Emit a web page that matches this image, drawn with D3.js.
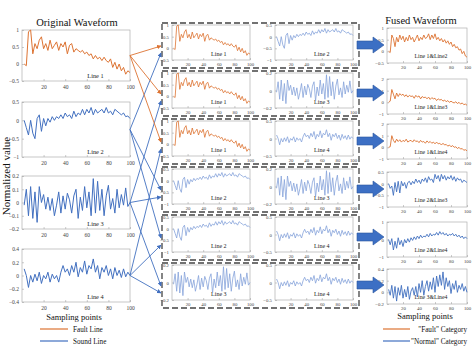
<!DOCTYPE html>
<html>
<head>
<meta charset="utf-8">
<script src="https://cdn.jsdelivr.net/npm/d3@7"></script>
<style>
  html, body { margin: 0; padding: 0; background: #fff; }
  svg { display: block; font-family: "Liberation Serif", "Times New Roman", serif; }
</style>
</head>
<body>
<svg id="chart" width="474" height="350"></svg>
<script>
// Sample positions (every second sampling point, 2..100)
const samplePoints = [2,4,6,8,10,12,14,16,18,20,22,24,26,28,30,32,34,36,38,40,42,44,46,48,50,
  52,54,56,58,60,62,64,66,68,70,72,74,76,78,80,82,84,86,88,90,92,94,96,98,100];
const xTickLabels = [20, 40, 60, 80, 100];

// Original waveforms
const line1 = [0.0,-0.05,0.95,1.0,0.3,0.6,0.45,0.7,0.8,0.45,0.6,0.4,0.7,0.45,0.55,0.65,0.4,0.6,0.5,0.65,
  0.3,0.55,0.6,0.35,0.45,0.4,0.35,0.4,0.3,0.35,0.25,0.3,0.15,0.25,0.15,0.2,0.1,0.2,0.1,0.05,
  0.15,-0.1,0.05,-0.15,0.0,-0.2,-0.1,-0.3,-0.2,-0.25];
const line2 = [0.0,-0.2,-0.4,0.0,-0.35,-0.5,0.05,0.15,-0.3,0.05,-0.15,0.05,-0.05,0.1,0.0,0.1,0.05,0.15,0.05,0.2,
  0.1,0.15,0.05,0.25,0.1,0.2,0.15,0.3,0.15,0.3,0.2,0.35,0.15,0.3,0.2,0.25,0.3,0.2,0.35,0.2,
  0.25,0.15,0.3,0.25,0.2,0.15,0.2,0.1,0.12,0.05];
const line3 = [-0.02,0.1,-0.1,0.12,-0.12,0.08,-0.15,0.12,0.0,0.06,-0.05,0.04,-0.06,0.03,-0.1,-0.02,0.08,-0.08,0.05,-0.05,
  0.07,0.02,-0.08,0.05,0.1,-0.12,0.04,-0.06,0.12,-0.04,0.08,-0.1,0.18,-0.08,0.16,-0.06,0.1,-0.1,0.05,0.13,
  -0.05,0.03,-0.08,0.1,-0.04,0.06,-0.02,0.11,-0.03,0.0];
const line4 = [0.1,0.0,-0.18,0.0,-0.1,0.02,-0.08,0.05,-0.12,0.0,-0.05,0.05,-0.1,0.02,-0.05,0.0,-0.1,0.05,0.15,0.05,
  0.1,0.0,0.15,0.05,0.2,-0.02,0.12,0.05,0.22,0.02,0.15,0.1,0.25,0.05,0.15,-0.05,0.12,0.05,0.15,0.0,
  0.1,-0.05,0.12,0.0,0.08,-0.03,0.1,-0.02,0.05,0.0];

// Fused waveforms
const fused12 = [0.0,-0.05,0.7,0.55,0.2,0.6,0.4,0.7,0.5,0.65,0.4,0.6,0.45,0.7,0.5,0.6,0.4,0.55,0.7,0.45,
  0.6,0.5,0.7,0.55,0.6,0.75,0.5,0.7,0.55,0.75,0.5,0.6,0.45,0.55,0.4,0.5,0.35,0.45,0.3,0.4,
  0.2,0.3,0.15,0.2,0.05,0.1,-0.1,0.0,-0.2,-0.25];
const fused13 = [0.0,0.1,1.1,0.7,0.3,0.8,0.5,0.75,0.6,0.7,0.5,0.65,0.45,0.6,0.5,0.55,0.35,0.6,0.45,0.55,
  0.3,0.5,0.4,0.45,0.3,0.45,0.25,0.4,0.3,0.35,0.15,0.3,0.2,0.25,0.1,0.2,0.05,0.15,0.0,0.1,
  0.0,-0.05,0.05,-0.1,0.0,-0.15,-0.05,-0.2,-0.15,-0.25];
const fused14 = [0.0,0.05,1.0,0.6,0.4,0.7,0.5,0.65,0.45,0.6,0.5,0.7,0.45,0.55,0.6,0.45,0.65,0.5,0.55,0.4,
  0.6,0.45,0.5,0.35,0.55,0.4,0.5,0.35,0.45,0.3,0.45,0.3,0.35,0.2,0.35,0.2,0.25,0.1,0.2,0.05,
  0.15,0.0,0.05,-0.1,0.0,-0.15,-0.1,-0.25,-0.2,-0.3];
const fused23 = [0.0,-0.2,-0.1,-0.5,0.05,-0.35,0.1,-0.4,0.1,-0.1,0.05,-0.2,0.05,0.1,-0.05,0.1,0.0,0.2,0.05,0.15,
  0.0,0.2,0.1,0.25,0.05,0.3,0.15,0.2,0.05,0.4,0.2,0.35,0.1,0.4,0.2,0.35,0.15,0.3,0.2,0.35,
  0.15,0.3,0.1,0.25,0.15,0.2,0.05,0.15,0.1,0.05];
const fused24 = [0.0,-0.3,0.05,-0.6,-0.1,-0.5,0.1,-0.3,-0.05,-0.4,0.0,-0.2,0.05,-0.15,0.1,-0.05,0.15,0.0,0.2,0.05,
  0.25,0.1,0.2,0.15,0.3,0.15,0.35,0.2,0.3,0.25,0.4,0.25,0.45,0.3,0.4,0.25,0.35,0.2,0.3,0.25,
  0.35,0.2,0.3,0.15,0.25,0.1,0.2,0.05,0.15,0.05];
const fused34 = [0.05,-0.05,0.12,-0.1,0.1,-0.15,0.08,-0.05,0.12,-0.1,0.05,-0.08,0.1,-0.12,0.02,0.08,-0.05,0.1,-0.08,0.15,
  0.0,0.2,-0.05,0.1,0.2,0.02,0.18,0.05,0.25,0.0,0.28,0.1,0.3,0.12,0.35,0.05,0.25,0.1,0.2,-0.02,
  0.15,0.05,0.2,0.0,0.12,0.05,0.15,0.02,0.1,0.0];

const ORANGE = "#dd7332";
const BLUE = "#4270c0";
const LIGHTBLUE = "#86a3da";

const svg = d3.select("#chart");

// Draws one small framed line plot with its axes and caption
function drawPanel(p) {
  const g = svg.append("g").attr("transform", `translate(${p.x},${p.y})`);
  const x = d3.scaleLinear().domain([0, 100]).range([0, p.w]);
  const y = d3.scaleLinear().domain(p.domain).range([p.h, 0]);

  g.append("rect").attr("width", p.w).attr("height", p.h)
    .attr("fill", "#fff").attr("stroke", "#b0b0b0").attr("stroke-width", 0.7);

  const yAxis = d3.axisLeft(y).tickValues(p.ticks).tickSizeInner(-2).tickSizeOuter(0)
    .tickPadding(3).tickFormat(d3.format("~g"));
  const ya = g.append("g").call(yAxis);
  const xAxis = d3.axisBottom(x).tickValues(xTickLabels).tickSizeInner(-2).tickSizeOuter(0)
    .tickPadding(p.xpad || 4);
  const xa = g.append("g").attr("transform", `translate(0,${p.h})`).call(xAxis);
  [ya, xa].forEach(a => {
    a.attr("font-family", null);
    a.select(".domain").remove();
    a.selectAll("line").attr("stroke", "#999").attr("stroke-width", 0.5);
    a.selectAll("text").attr("fill", "#444").attr("font-size", p.tick);
  });

  g.append("text").attr("x", p.w * p.labelX).attr("y", p.h - p.labelDy)
    .attr("text-anchor", "middle").attr("font-size", p.labelSize).attr("fill", "#222")
    .text(p.label);

  const line = d3.line().x((d, i) => x(samplePoints[i])).y(d => y(d));
  g.append("path").datum(p.data).attr("d", line).attr("fill", "none")
    .attr("stroke", p.color).attr("stroke-width", p.lw || 0.9).attr("stroke-linejoin", "round");
}

// Titles
svg.append("text").attr("x", 77).attr("y", 26).attr("text-anchor", "middle")
  .attr("font-size", 10.5).attr("fill", "#111").text("Original Waveform");
svg.append("text").attr("x", 421).attr("y", 24).attr("text-anchor", "middle")
  .attr("font-size", 10.5).attr("fill", "#111").text("Fused Waveform");
svg.append("text").attr("transform", "translate(10,176) rotate(-90)").attr("text-anchor", "middle")
  .attr("font-size", 11).attr("fill", "#111").text("Normalized value");

// Left column: the four original lines
const originals = [
  { data: line1, domain: [-0.5, 1], ticks: [-0.5, 0, 0.5, 1], color: ORANGE, label: "Line 1", y: 30, h: 51 },
  { data: line2, domain: [-1, 0.5], ticks: [-1, -0.5, 0, 0.5], color: BLUE, label: "Line 2", y: 102, h: 55 },
  { data: line3, domain: [-0.2, 0.2], ticks: [-0.2, -0.1, 0, 0.1, 0.2], color: BLUE, label: "Line 3", y: 176, h: 53 },
  { data: line4, domain: [-0.4, 0.4], ticks: [-0.4, -0.2, 0, 0.2, 0.4], color: BLUE, label: "Line 4", y: 249, h: 53 }
];
originals.forEach(o => drawPanel(Object.assign({ x: 22, w: 108, tick: 5.5, labelX: 0.68,
  labelDy: 3, labelSize: 6.3, lw: 1 }, o)));

// Middle column: pairs of lines grouped in dashed frames
const lineInfo = {
  1: { data: line1, domain: [-0.5, 1], ticks: [-0.5, 0, 0.5, 1], color: ORANGE },
  2: { data: line2, domain: [-1, 0.5], ticks: [-1, -0.5, 0, 0.5], color: LIGHTBLUE },
  3: { data: line3, domain: [-0.2, 0.2], ticks: [-0.2, 0, 0.2], color: LIGHTBLUE },
  4: { data: line4, domain: [-0.5, 0.5], ticks: [-0.5, 0, 0.5], color: LIGHTBLUE }
};
const pairs = [[1, 2], [1, 3], [1, 4], [2, 3], [2, 4], [3, 4]];
const rowTop = i => 23 + i * 48;

pairs.forEach((pr, i) => {
  const T = rowTop(i);
  svg.append("rect").attr("x", 162).attr("y", T).attr("width", 197).attr("height", 45)
    .attr("fill", "none").attr("stroke", "#444").attr("stroke-width", 1.3)
    .attr("stroke-dasharray", "6,3");
  pr.forEach((ln, k) => {
    const info = lineInfo[ln];
    drawPanel({ x: k === 0 ? 172 : 275, y: T + 2, w: 78, h: 35, domain: info.domain,
      ticks: info.ticks, data: info.data, color: info.color, label: "Line " + ln,
      tick: 4.8, labelX: 0.6, labelDy: 4, labelSize: 6, lw: 0.8, xpad: 3 });
  });
});

// Right column: fused waveforms
const fusedList = [
  { data: fused12, domain: [-0.5, 1], ticks: [-0.5, 0, 0.5, 1], color: ORANGE, label: "Line 1&Line2", y: 28 },
  { data: fused13, domain: [-1, 2], ticks: [-1, 0, 1, 2], color: ORANGE, label: "Line 1&Line3", y: 79 },
  { data: fused14, domain: [-1, 2], ticks: [-1, 0, 1, 2], color: ORANGE, label: "Line 1&Line4", y: 124 },
  { data: fused23, domain: [-1, 0.5], ticks: [-1, -0.5, 0, 0.5], color: BLUE, label: "Line 2&Line3", y: 172 },
  { data: fused24, domain: [-1, 1], ticks: [-1, 0, 1], color: BLUE, label: "Line 2&Line4", y: 222 },
  { data: fused34, domain: [-0.2, 0.4], ticks: [-0.2, 0, 0.2, 0.4], color: BLUE, label: "Line 3&Line4", y: 269 }
];
fusedList.forEach(f => drawPanel(Object.assign({ x: 387, w: 80, h: 35, tick: 4.8, labelX: 0.55,
  labelDy: 5, labelSize: 5.8, lw: 0.9, xpad: 3 }, f)));

// Thick arrows from each pair to its fused result
pairs.forEach((pr, i) => {
  const cy = rowTop(i) + 22;
  svg.append("path")
    .attr("d", `M357,${cy - 4} L373,${cy - 4} L373,${cy - 8} L384,${cy} L373,${cy + 8} L373,${cy + 4} L357,${cy + 4} Z`)
    .attr("fill", "#3c6fc4").attr("stroke", "#2a559e").attr("stroke-width", 0.6);
});

// Arrow markers for the routing lines
const defs = svg.append("defs");
[["mOrange", ORANGE], ["mBlue", BLUE]].forEach(([id, c]) => {
  defs.append("marker").attr("id", id).attr("viewBox", "0 0 10 10").attr("refX", 9).attr("refY", 5)
    .attr("markerWidth", 5).attr("markerHeight", 5).attr("orient", "auto")
    .append("path").attr("d", "M0,0 L10,5 L0,10 Z").attr("fill", c);
});

// Routing: each original line feeds three of the pair frames
const origins = { 1: 55.5, 2: 129.5, 3: 202.5, 4: 275.5 };
pairs.forEach((pr, i) => {
  pr.forEach((ln, k) => {
    const ty = rowTop(i) + (k === 0 ? 23 : 30);
    svg.append("line").attr("x1", 130).attr("y1", origins[ln]).attr("x2", 161).attr("y2", ty)
      .attr("stroke", ln === 1 ? ORANGE : BLUE).attr("stroke-width", 0.9)
      .attr("marker-end", ln === 1 ? "url(#mOrange)" : "url(#mBlue)");
  });
});

// Axis captions
svg.append("text").attr("x", 74).attr("y", 320).attr("text-anchor", "middle")
  .attr("font-size", 8.5).attr("fill", "#111").text("Sampling points");
svg.append("text").attr("x", 425).attr("y", 319).attr("text-anchor", "middle")
  .attr("font-size", 8.5).attr("fill", "#111").text("Sampling points");

// Legends
const legendLeft = [["Fault Line", ORANGE, 329], ["Sound Line", BLUE, 341]];
legendLeft.forEach(([t, c, y]) => {
  svg.append("line").attr("x1", 40).attr("x2", 68).attr("y1", y).attr("y2", y)
    .attr("stroke", c).attr("stroke-width", 1.2);
  svg.append("text").attr("x", 73).attr("y", y + 2.5).attr("font-size", 7.2).attr("fill", "#111").text(t);
});
const legendRight = [["\"Fault\" Category", ORANGE, 329], ["\"Normal\" Category", BLUE, 341]];
legendRight.forEach(([t, c, y]) => {
  svg.append("line").attr("x1", 383).attr("x2", 410).attr("y1", y).attr("y2", y)
    .attr("stroke", c).attr("stroke-width", 1.2);
  svg.append("text").attr("x", 467).attr("y", y + 2.5).attr("text-anchor", "end")
    .attr("font-size", 7.2).attr("fill", "#111").text(t);
});
</script>
</body>
</html>
